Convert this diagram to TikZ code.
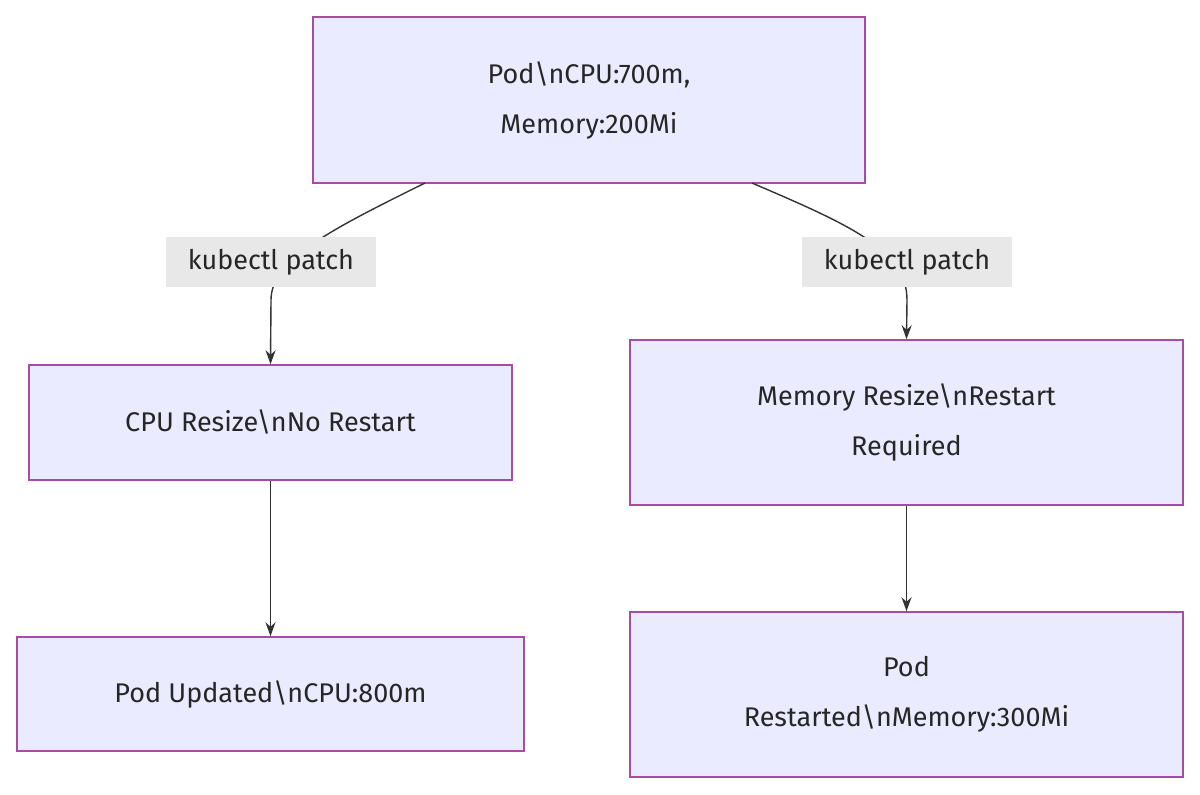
\documentclass[tikz,border=0pt]{standalone}
\usepackage{fontspec}
\setmainfont{Fira Sans}
\usetikzlibrary{arrows.meta}
\begin{document}
\begin{tikzpicture}[x=1pt,y=-1pt,
  box/.style={draw=violet!70!white,line width=1.5pt,fill=blue!8,inner sep=0pt,align=center,font=\fontsize{27}{50}\selectfont,text=black!85},
  lbl/.style={fill=black!9,inner sep=3pt,font=\fontsize{27}{32}\selectfont,text=black!85,minimum height=50,minimum width=210},
  arr/.style={line width=1.4pt,draw=black!80,-{Stealth[length=14pt,width=10pt]}}]
\useasboundingbox (0,0) rectangle (1200,795);
\node[box,minimum width=552,minimum height=166] (top) at (589,100) {Pod\textbackslash nCPU:700m,\\Memory:200Mi};
\node[box,minimum width=483,minimum height=115] (cpu) at (270.5,422.5) {CPU Resize\textbackslash nNo Restart};
\node[box,minimum width=507,minimum height=114] (pu) at (270.5,694) {Pod Updated\textbackslash nCPU:800m};
\node[box,minimum width=553,minimum height=165] (mem) at (906.5,422.5) {Memory Resize\textbackslash nRestart\\Required};
\node[box,minimum width=553,minimum height=165] (pr) at (906.5,694.5) {Pod\\Restarted\textbackslash nMemory:300Mi};
\coordinate (s1) at (425,183);
\coordinate (s2) at (752,183);
\draw[arr] (s1) .. controls (330,230) and (271,260) .. (271,300) -- (cpu.north);
\draw[arr] (s2) .. controls (850,225) and (907,250) .. (907,300) -- (mem.north);
\node[lbl] (l1) at (271,262) {kubectl patch};
\node[lbl] (l2) at (907,262) {kubectl patch};
\draw[arr] (cpu) -- (pu);
\draw[arr] (mem) -- (pr);
\end{tikzpicture}
\end{document}
